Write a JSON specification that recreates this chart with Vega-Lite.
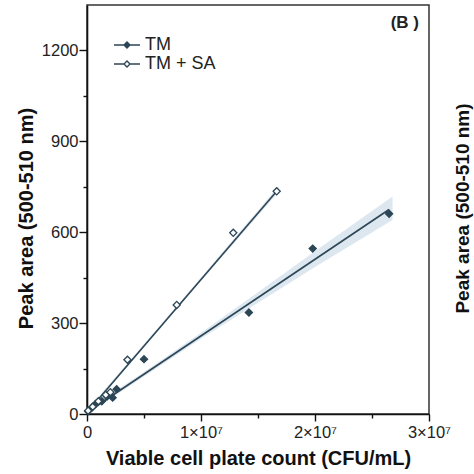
{
  "$schema": "https://vega.github.io/schema/vega-lite/v6.json",
  "width": 342,
  "height": 409,
  "autosize": {"type": "none"},
  "padding": {"left": 87, "top": 5, "right": 45, "bottom": 60},
  "config": {
    "font": "Liberation Sans",
    "view": {"stroke": "#333", "strokeWidth": 1.5},
    "axis": {"domainColor": "#111", "domainWidth": 1.6, "tickColor": "#111", "tickWidth": 1.4, "labelColor": "#222", "titleColor": "#111", "grid": false}
  },
  "title": {"text": "(B )", "anchor": "end", "frame": "group", "orient": "top", "offset": -27, "dx": -10, "fontSize": 17, "fontWeight": "bold", "color": "#222"},
  "datasets": {
    "pts": [
      {"x": 100000, "y": 9, "series": "TM"},
      {"x": 450000, "y": 22, "series": "TM"},
      {"x": 750000, "y": 33, "series": "TM"},
      {"x": 1300000, "y": 42, "series": "TM"},
      {"x": 1750000, "y": 58, "series": "TM"},
      {"x": 2250000, "y": 54, "series": "TM"},
      {"x": 2600000, "y": 82, "series": "TM"},
      {"x": 5000000, "y": 181, "series": "TM"},
      {"x": 14200000, "y": 335, "series": "TM"},
      {"x": 19800000, "y": 546, "series": "TM"},
      {"x": 26500000, "y": 661, "series": "TM"},
      {"x": 100000, "y": 11, "series": "TM + SA"},
      {"x": 500000, "y": 24, "series": "TM + SA"},
      {"x": 1000000, "y": 42, "series": "TM + SA"},
      {"x": 1650000, "y": 63, "series": "TM + SA"},
      {"x": 2050000, "y": 72, "series": "TM + SA"},
      {"x": 3550000, "y": 179, "series": "TM + SA"},
      {"x": 7870000, "y": 360, "series": "TM + SA"},
      {"x": 12830000, "y": 598, "series": "TM + SA"},
      {"x": 16640000, "y": 735, "series": "TM + SA"}
    ],
    "fit": [
      {"x": 0, "y": 5, "series": "TM"},
      {"x": 26500000, "y": 675, "series": "TM"},
      {"x": 0, "y": 5, "series": "TM + SA"},
      {"x": 16640000, "y": 735, "series": "TM + SA"}
    ],
    "band": [
      {"x": 0, "lo": 0, "hi": 14, "series": "TM"},
      {"x": 5000000, "lo": 124, "hi": 139, "series": "TM"},
      {"x": 10000000, "lo": 248, "hi": 268, "series": "TM"},
      {"x": 15000000, "lo": 367, "hi": 402, "series": "TM"},
      {"x": 20000000, "lo": 485, "hi": 537, "series": "TM"},
      {"x": 26800000, "lo": 640, "hi": 718, "series": "TM"},
      {"x": 0, "lo": 0, "hi": 12, "series": "TM + SA"},
      {"x": 8000000, "lo": 353, "hi": 362, "series": "TM + SA"},
      {"x": 16800000, "lo": 733, "hi": 752, "series": "TM + SA"}
    ]
  },
  "layer": [
    {
      "data": {"name": "band"},
      "mark": {"type": "area", "color": "#d9e4ee", "opacity": 0.9},
      "encoding": {
        "x": {
          "field": "x", "type": "quantitative",
          "scale": {"domain": [0, 30000000], "nice": false, "zero": false},
          "axis": {
            "values": [0, 5000000, 10000000, 15000000, 20000000, 25000000, 30000000],
            "labelExpr": "datum.value == 0 ? '0' : (datum.value % 10000000 == 0 ? format(datum.value / 10000000, 'd') + '×10⁷' : '')",
            "tickSize": {"condition": {"test": "datum.value % 10000000 == 0", "value": 7}, "value": 4},
            "labelPadding": 3,
            "labelFontSize": 16.5,
            "labelFlush": false,
            "labelOverlap": false,
            "title": "Viable cell plate count (CFU/mL)",
            "titleFontSize": 20,
            "titleFontWeight": "bold",
            "titlePadding": 8
          }
        },
        "y": {
          "field": "lo", "type": "quantitative",
          "scale": {"domain": [0, 1350], "nice": false},
          "axis": {
            "orient": "left",
            "values": [0, 150, 300, 450, 600, 750, 900, 1050, 1200],
            "labelExpr": "datum.value % 300 == 0 ? format(datum.value, 'd') : ''",
            "tickSize": {"condition": {"test": "datum.value % 300 == 0", "value": 8}, "value": 4},
            "labelPadding": 1,
            "labelFontSize": 16.5,
            "labelFlush": false,
            "labelOverlap": false,
            "title": "Peak area (500-510 nm)",
            "titleFontSize": 20,
            "titleFontWeight": "bold",
            "titlePadding": 5,
            "titleY": 213
          }
        },
        "y2": {"field": "hi"},
        "detail": {"field": "series"}
      }
    },
    {
      "data": {"name": "fit"},
      "mark": {"type": "line", "color": "#2c4656", "strokeWidth": 1.6},
      "encoding": {
        "x": {"field": "x", "type": "quantitative"},
        "y": {
          "field": "y", "type": "quantitative",
          "axis": {
            "orient": "right",
            "labels": false,
            "ticks": false,
            "domain": false,
            "title": "Peak area (500-510 nm)",
            "titleAngle": 270,
            "titleFontSize": 19,
            "titleFontWeight": "bold",
            "titlePadding": 43,
            "titleY": 203
          }
        },
        "detail": {"field": "series"}
      }
    },
    {
      "data": {"name": "pts"},
      "mark": {"type": "point", "shape": "diamond", "size": 50, "stroke": "#2c4656", "strokeWidth": 1.3, "opacity": 1},
      "encoding": {
        "x": {"field": "x", "type": "quantitative"},
        "y": {"field": "y", "type": "quantitative", "axis": null},
        "fill": {
          "field": "series", "type": "nominal",
          "scale": {"domain": ["TM", "TM + SA"], "range": ["#2c4656", "#ffffff"]},
          "legend": {
            "orient": "none",
            "legendX": 31,
            "legendY": 31,
            "title": null,
            "symbolType": "M-2.6,0L-0.6,0M0.6,0L2.6,0M-0.6,0L0,-0.6L0.6,0L0,0.6Z",
            "symbolSize": 100,
            "symbolStrokeColor": "#2c4656",
            "symbolStrokeWidth": 1.4,
            "labelFontSize": 18,
            "labelColor": "#222",
            "labelOffset": 9,
            "rowPadding": 1
          }
        }
      }
    }
  ],
  "resolve": {"axis": {"y": "independent"}}
}
